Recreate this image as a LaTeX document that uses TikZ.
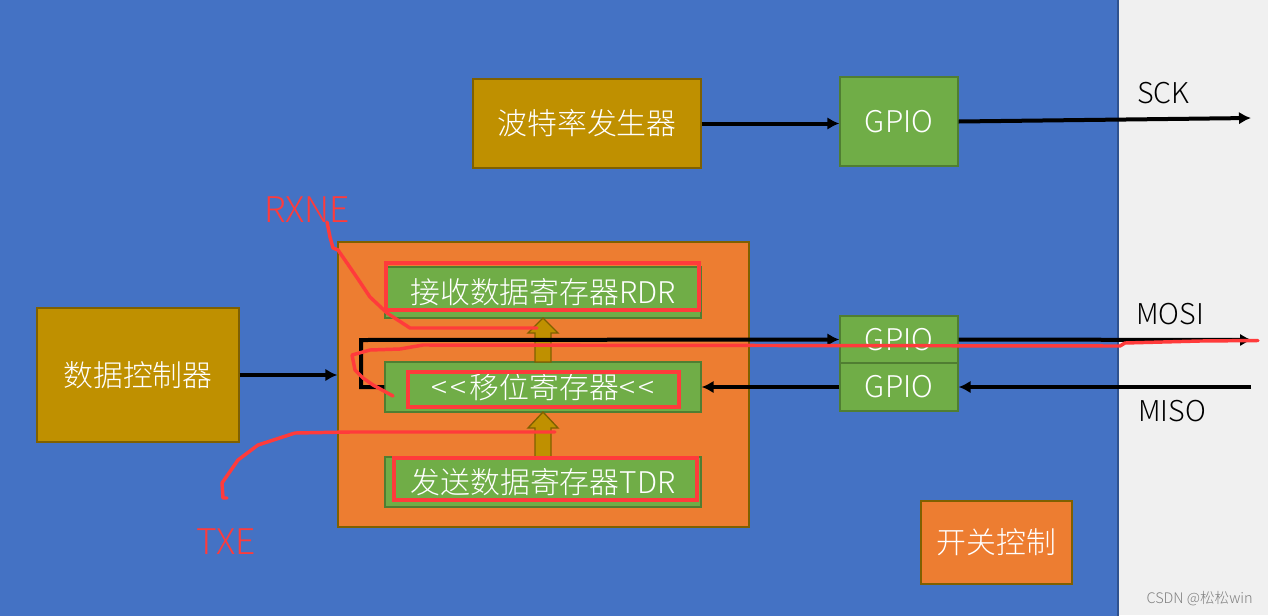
\documentclass[tikz,border=0pt]{standalone}
\usepackage{fontspec}
\setmainfont{Noto Sans CJK SC Light}
\usetikzlibrary{arrows.meta}
\definecolor{bgblue}{HTML}{4472C4}
\definecolor{bgline}{HTML}{2F528F}
\definecolor{sidegrey}{HTML}{F0F0F0}
\definecolor{gold}{HTML}{BF9000}
\definecolor{goldline}{HTML}{7F6000}
\definecolor{leaf}{HTML}{70AD47}
\definecolor{leafline}{HTML}{507E32}
\definecolor{tang}{HTML}{ED7D31}
\definecolor{inkred}{HTML}{FF3B3B}
\tikzset{
 x=0.75pt,y=-0.75pt,
 box/.style={draw,line width=1pt,text=white,inner sep=0pt,font=\fontsize{22.4}{24}\selectfont},
 goldbox/.style={box,fill=gold,draw=goldline},
 greenbox/.style={box,fill=leaf,draw=leafline},
 orangebox/.style={box,fill=tang,draw=goldline},
 wire/.style={draw=black,line width=3pt,-{Latex[length=9pt,width=9.5pt]}},
 ink/.style={draw=inkred,line width=2.6pt,line join=round,line cap=round},
 inkbox/.style={draw=inkred,line width=2.6pt,fill=none},
 inklabel/.style={text=inkred,font=\fontsize{26.5}{28}\selectfont,inner sep=0pt},
 pin/.style={text=black,font=\fontsize{21.5}{23}\selectfont,inner sep=0pt},
 upblock/.style={draw=goldline,fill=gold,line width=1pt},
}
\begin{document}
\begin{tikzpicture}
\useasboundingbox (0,0) rectangle (1268,615);
\fill[sidegrey] (0,0) rectangle (1268,615);
\filldraw[fill=bgblue,draw=bgline,line width=0.8pt] (-2,-2) rectangle (1118,617);

% outer blocks
\node[goldbox,minimum width=171pt,minimum height=66.75pt] (baud) at (587,123.5) {波特率发生器};
\node[greenbox,minimum width=88.5pt,minimum height=66.75pt] (gpioa) at (899,121.5) {GPIO};
\node[goldbox,minimum width=151.5pt,minimum height=100.5pt] (ctrl) at (138,375) {数据控制器};
\node[orangebox,minimum width=308.25pt,minimum height=213.75pt] (core) at (543.5,384.5) {};
\node[orangebox,minimum width=113.25pt,minimum height=62.25pt] (switch) at (996.5,542.5) {开关控制};

% inner registers
\node[greenbox,minimum width=237pt,minimum height=38.25pt] (rdr) at (543,292.5) {接收数据寄存器RDR};
\node[greenbox,minimum width=237pt,minimum height=37.5pt] (shift) at (543,387) {<\hspace{2.5pt}<\hspace{2.5pt}移位寄存器<\hspace{2.5pt}<};
\node[greenbox,minimum width=237pt,minimum height=37.5pt] (tdr) at (543,482) {发送数据寄存器TDR};

\node[greenbox,minimum width=88.5pt,minimum height=35.25pt] (gpiob) at (899,339.5) {GPIO};
\node[greenbox,minimum width=88.5pt,minimum height=36pt] (gpioc) at (899,387) {GPIO};

% free ends
\coordinate (sckend) at (1251,118);
\coordinate (mosiend) at (1252,340);
\coordinate (misostart) at (1251,387);

% block arrows
\filldraw[upblock] (535,362) -- (535,333) -- (528,333) -- (543,318) -- (558,333) -- (551,333) -- (551,362) -- cycle;
\filldraw[upblock] (535,457) -- (535,428) -- (528,428) -- (543,412) -- (558,428) -- (551,428) -- (551,457) -- cycle;

% connectors
\draw[wire] (baud.east) -- (baud.east -| gpioa.west);
\draw[wire] (gpioa.east) -- (sckend);
\draw[wire] (ctrl.east) -- (ctrl.east -| core.west);
\draw[wire] (shift.west) -- (361,387) -- (361,340) -- (gpiob.west);
\draw[wire] (gpiob.east) -- (mosiend);
\draw[wire] (misostart) -- (gpioc.east);
\draw[wire] (gpioc.west) -- (shift.east);

% pin labels
\node[pin,anchor=west] (sck) at (1137,93) {SCK};
\node[pin,anchor=west] (mosi) at (1136,314) {MOSI};
\node[pin,anchor=west] (miso) at (1138,411) {MISO};

% red annotations
\draw[inkbox] (386,263) rectangle (699,310);
\draw[inkbox] (408,372) rectangle (679,407);
\draw[inkbox] (394,458) rectangle (697,500);
\node[inklabel] (rxne) at (307,210) {RXNE};
\node[inklabel] (txe) at (226,541.5) {TXE};
\draw[ink] (327,222) -- (330,237) -- (333,248) -- (338,250) -- (347,263) -- (360,282) -- (370,297) -- (387,313) -- (410,328) -- (537,328);
\draw[ink] (393,396) -- (373,385) -- (363,378) -- (355,370) -- (352,355) -- (370,350) -- (400,349) -- (423,345) -- (1120,346) -- (1125,343) -- (1200,341) -- (1258,340.5);
\draw[ink] (227,498) -- (223,498) -- (222,483) -- (238,460) -- (258,445) -- (295,433) -- (350,432) -- (555,432);

\node[text=gray,font=\fontsize{10.9}{12}\selectfont,inner sep=0pt,anchor=east] (mark) at (1253,599) {CSDN @松松win};
\end{tikzpicture}
\end{document}
